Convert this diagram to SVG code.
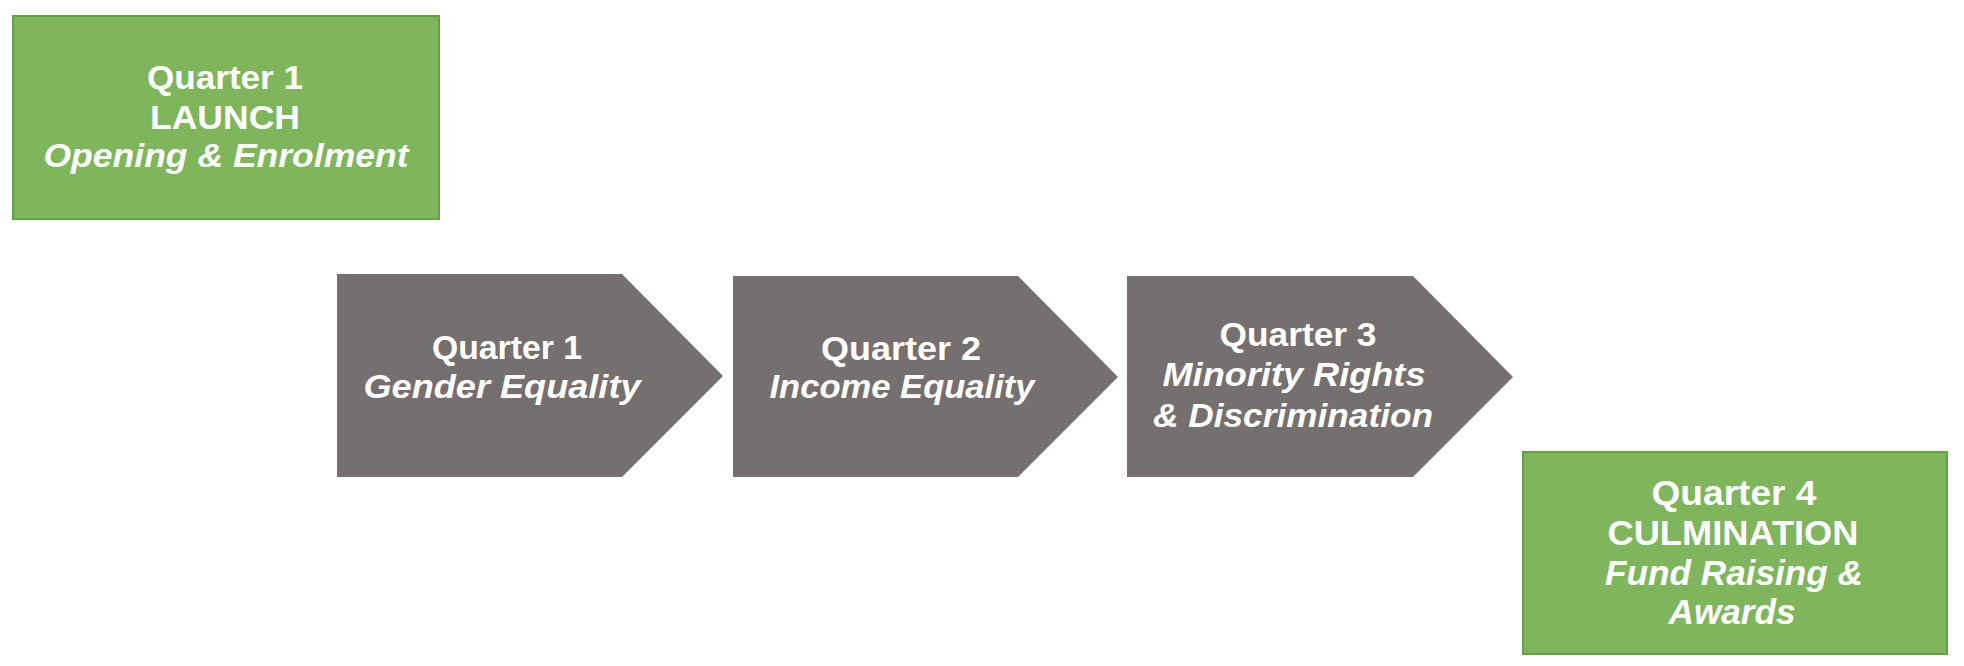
<svg xmlns="http://www.w3.org/2000/svg" width="1964" height="666" viewBox="0 0 1964 666">
<style>
.green{fill:#7eb55d;stroke:#62a23f;stroke-width:2}
.grey{fill:#756f6f}
text{font-family:"Liberation Sans",Arial,sans-serif;font-weight:bold;font-size:33px;fill:#ffffff;text-anchor:middle}
.it{font-style:italic}
.big{font-size:35px}
</style>
<rect width="1964" height="666" fill="#ffffff"/>
<g id="q1-launch">
<rect class="green" x="13" y="16" width="426" height="203"/>
<text x="225" y="89" textLength="156" lengthAdjust="spacingAndGlyphs">Quarter 1</text>
<text x="225" y="129" textLength="150" lengthAdjust="spacingAndGlyphs">LAUNCH</text>
<text class="it" x="226" y="167" textLength="365" lengthAdjust="spacingAndGlyphs">Opening &amp; Enrolment</text>
</g>
<g id="q1-gender">
<polygon class="grey" points="337,274 622,274 723,376 622,477 337,477"/>
<text x="507" y="359" textLength="150" lengthAdjust="spacingAndGlyphs">Quarter 1</text>
<text class="it" x="502" y="398" textLength="277" lengthAdjust="spacingAndGlyphs">Gender Equality</text>
</g>
<g id="q2-income">
<polygon class="grey" points="733,276 1018,276 1118,377 1018,477 733,477"/>
<text x="901" y="360" textLength="160" lengthAdjust="spacingAndGlyphs">Quarter 2</text>
<text class="it" x="902" y="398" textLength="265" lengthAdjust="spacingAndGlyphs">Income Equality</text>
</g>
<g id="q3-minority">
<polygon class="grey" points="1127,276 1413,276 1513,377 1413,477 1127,477"/>
<text x="1298" y="346" textLength="157" lengthAdjust="spacingAndGlyphs">Quarter 3</text>
<text class="it" x="1294" y="386" textLength="263" lengthAdjust="spacingAndGlyphs">Minority Rights</text>
<text class="it" x="1293" y="427" textLength="280" lengthAdjust="spacingAndGlyphs">&amp; Discrimination</text>
</g>
<g id="q4-culmination">
<rect class="green" x="1523" y="452" width="424" height="202"/>
<text class="big" x="1734" y="505" textLength="165" lengthAdjust="spacingAndGlyphs">Quarter 4</text>
<text class="big" x="1733" y="545" textLength="251" lengthAdjust="spacingAndGlyphs">CULMINATION</text>
<text class="big it" x="1734" y="585" textLength="258" lengthAdjust="spacingAndGlyphs">Fund Raising &amp;</text>
<text class="big it" x="1732" y="624" textLength="127" lengthAdjust="spacingAndGlyphs">Awards</text>
</g>
<g id="connectors"></g>
</svg>
